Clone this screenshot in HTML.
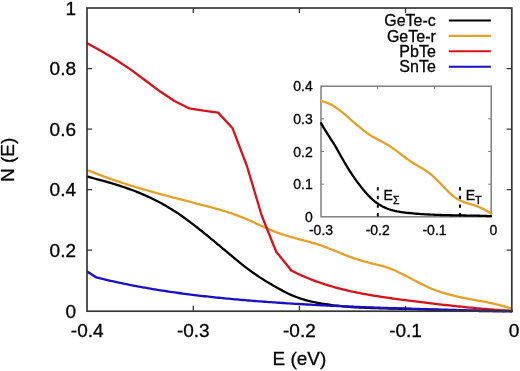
<!DOCTYPE html>
<html><head><meta charset="utf-8"><title>N(E) plot</title>
<style>html,body{margin:0;padding:0;background:#fff;}svg{display:block;}text{font-family:'Liberation Sans', Arial, Helvetica, sans-serif;fill:#000;stroke:#000;stroke-width:0.3px;}</style></head><body>
<svg width="520" height="371" viewBox="0 0 520 371">
<rect x="0" y="0" width="520" height="371" fill="#fff"/>
<path d="M87.2,250.2h5M511.6,250.2h-5M87.2,189.7h5M511.6,189.7h-5M87.2,129.2h5M511.6,129.2h-5M87.2,68.6h5M511.6,68.6h-5M193.3,310.8v-5M193.3,8.1v5M299.4,310.8v-5M299.4,8.1v5M405.5,310.8v-5M405.5,8.1v5" stroke="#363636" stroke-width="1.3" fill="none"/>
<path d="M87.40,176.68 89.40,177.20 91.40,177.71 93.40,178.24 95.40,178.76 97.40,179.29 99.41,179.83 101.41,180.37 103.41,180.92 105.41,181.48 107.41,182.04 109.41,182.62 111.41,183.20 113.41,183.80 115.41,184.41 117.41,185.03 119.42,185.66 121.42,186.31 123.42,186.98 125.42,187.65 127.42,188.35 129.42,189.06 131.42,189.79 133.42,190.53 135.42,191.30 137.42,192.09 139.42,192.89 141.43,193.72 143.43,194.57 145.43,195.44 147.43,196.33 149.43,197.25 151.43,198.20 153.43,199.17 155.43,200.16 157.43,201.19 159.43,202.24 161.43,203.32 163.44,204.43 165.44,205.57 167.44,206.74 169.44,207.94 171.44,209.17 173.44,210.44 175.44,211.73 177.44,213.06 179.44,214.42 181.44,215.80 183.45,217.21 185.45,218.65 187.45,220.11 189.45,221.59 191.45,223.10 193.45,224.62 195.45,226.17 197.45,227.73 199.45,229.31 201.45,230.90 203.45,232.51 205.46,234.13 207.46,235.76 209.46,237.40 211.46,239.05 213.46,240.70 215.46,242.37 217.46,244.04 219.46,245.71 221.46,247.38 223.46,249.06 225.47,250.74 227.47,252.41 229.47,254.08 231.47,255.75 233.47,257.41 235.47,259.07 237.47,260.71 239.47,262.34 241.47,263.95 243.47,265.54 245.47,267.10 247.48,268.63 249.48,270.13 251.48,271.60 253.48,273.02 255.48,274.41 257.48,275.77 259.48,277.09 261.48,278.39 263.48,279.65 265.48,280.90 267.48,282.11 269.49,283.31 271.49,284.49 273.49,285.65 275.49,286.79 277.49,287.92 279.49,289.04 281.49,290.13 283.49,291.20 285.49,292.23 287.49,293.23 289.50,294.18 291.50,295.09 293.50,295.94 295.50,296.73 297.50,297.48 299.50,298.19 301.50,298.84 303.50,299.46 305.50,300.04 307.50,300.58 309.50,301.08 311.51,301.55 313.51,302.00 315.51,302.41 317.51,302.81 319.51,303.18 321.51,303.53 323.51,303.86 325.51,304.18 327.51,304.48 329.51,304.76 331.52,305.03 333.52,305.29 335.52,305.53 337.52,305.76 339.52,305.97 341.52,306.17 343.52,306.36 345.52,306.54 347.52,306.71 349.52,306.86 351.52,307.01 353.53,307.15 355.53,307.27 357.53,307.39 359.53,307.50 361.53,307.61 363.53,307.70 365.53,307.79 367.53,307.87 369.53,307.95 371.53,308.02 373.53,308.09 375.54,308.15 377.54,308.21 379.54,308.27 381.54,308.32 383.54,308.37 385.54,308.42 387.54,308.46 389.54,308.51 391.54,308.56 393.54,308.60 395.55,308.65 397.55,308.69 399.55,308.74 401.55,308.79 403.55,308.85 405.55,308.90 407.55,308.96 409.55,309.02 411.55,309.08 413.55,309.14 415.55,309.20 417.56,309.27 419.56,309.33 421.56,309.39 423.56,309.46 425.56,309.53 427.56,309.59 429.56,309.66 431.56,309.73 433.56,309.79 435.56,309.86 437.57,309.93 439.57,309.99 441.57,310.06 443.57,310.12 445.57,310.19 447.57,310.25 449.57,310.31 451.57,310.37 453.57,310.43 455.57,310.49 457.57,310.54 459.58,310.59 461.58,310.65 463.58,310.69 465.58,310.74 467.58,310.79 469.58,310.83 471.58,310.87 473.58,310.90 475.58,310.93 477.58,310.96 479.58,310.99 481.59,311.01 483.59,311.03 485.59,311.05 487.59,311.06 489.59,311.07 491.59,311.07 493.59,311.07 495.59,311.07 497.59,311.06 499.59,311.04 501.60,311.02 503.60,311.00 505.60,310.97 507.60,310.93 509.60,310.89 511.60,310.85" fill="none" stroke="#000" stroke-width="2.3" stroke-linejoin="round" stroke-linecap="round"/>
<path d="M87.60,170.20 89.60,171.01 91.60,171.81 93.60,172.61 95.60,173.38 97.60,174.15 99.60,174.91 101.60,175.66 103.60,176.40 105.60,177.12 107.60,177.84 109.60,178.55 111.60,179.25 113.60,179.94 115.60,180.62 117.60,181.29 119.60,181.96 121.60,182.61 123.60,183.26 125.60,183.90 127.60,184.54 129.60,185.16 131.60,185.78 133.60,186.39 135.60,187.00 137.60,187.60 139.60,188.19 141.60,188.78 143.60,189.36 145.60,189.94 147.60,190.51 149.60,191.08 151.60,191.64 153.60,192.20 155.60,192.75 157.60,193.30 159.60,193.85 161.60,194.39 163.60,194.93 165.60,195.46 167.60,196.00 169.60,196.53 171.60,197.05 173.60,197.58 175.60,198.10 177.60,198.62 179.60,199.14 181.60,199.66 183.60,200.18 185.60,200.69 187.60,201.21 189.60,201.72 191.60,202.24 193.60,202.75 195.60,203.27 197.60,203.78 199.60,204.30 201.60,204.82 203.60,205.34 205.60,205.86 207.60,206.38 209.60,206.91 211.60,207.45 213.60,208.00 215.60,208.55 217.60,209.12 219.60,209.69 221.60,210.28 223.60,210.88 225.60,211.50 227.60,212.13 229.60,212.78 231.60,213.45 233.60,214.14 235.60,214.85 237.60,215.58 239.60,216.33 241.60,217.11 243.60,217.91 245.60,218.74 247.60,219.59 249.60,220.47 251.60,221.37 253.60,222.28 255.60,223.20 257.60,224.12 259.60,225.05 261.60,225.97 263.60,226.89 265.60,227.79 267.60,228.67 269.60,229.54 271.60,230.38 273.60,231.18 275.60,231.96 277.60,232.70 279.60,233.41 281.60,234.09 283.60,234.74 285.60,235.37 287.60,235.98 289.60,236.57 291.60,237.14 293.60,237.70 295.60,238.24 297.60,238.77 299.60,239.30 301.60,239.82 303.60,240.34 305.60,240.87 307.60,241.41 309.60,241.96 311.60,242.52 313.60,243.10 315.60,243.70 317.60,244.33 319.60,244.99 321.60,245.67 323.60,246.39 325.60,247.14 327.60,247.92 329.60,248.71 331.60,249.51 333.60,250.33 335.60,251.15 337.60,251.97 339.60,252.78 341.60,253.58 343.60,254.37 345.60,255.14 347.60,255.89 349.60,256.63 351.60,257.35 353.60,258.06 355.60,258.74 357.60,259.40 359.60,260.04 361.60,260.66 363.60,261.26 365.60,261.82 367.60,262.37 369.60,262.89 371.60,263.38 373.60,263.86 375.60,264.33 377.60,264.81 379.60,265.31 381.60,265.83 383.60,266.38 385.60,266.98 387.60,267.62 389.60,268.34 391.60,269.11 393.60,269.94 395.60,270.81 397.60,271.73 399.60,272.69 401.60,273.68 403.60,274.70 405.60,275.74 407.60,276.79 409.60,277.86 411.60,278.93 413.60,280.00 415.60,281.06 417.60,282.11 419.60,283.14 421.60,284.15 423.60,285.14 425.60,286.08 427.60,286.99 429.60,287.86 431.60,288.69 433.60,289.48 435.60,290.24 437.60,290.96 439.60,291.65 441.60,292.31 443.60,292.94 445.60,293.54 447.60,294.12 449.60,294.66 451.60,295.19 453.60,295.69 455.60,296.17 457.60,296.63 459.60,297.08 461.60,297.50 463.60,297.91 465.60,298.31 467.60,298.69 469.60,299.07 471.60,299.44 473.60,299.80 475.60,300.16 477.60,300.52 479.60,300.88 481.60,301.24 483.60,301.61 485.60,301.98 487.60,302.37 489.60,302.77 491.60,303.18 493.60,303.61 495.60,304.06 497.60,304.53 499.60,305.03 501.60,305.55 503.60,306.09 505.60,306.67 507.60,307.28 509.60,307.92 511.60,308.60" fill="none" stroke="#e6a12a" stroke-width="2.3" stroke-linejoin="round" stroke-linecap="round"/>
<path d="M87.2,43.2 101.7,51.2 116.3,60.0 130.8,69.6 145.4,80.5 159.9,91.3 174.4,101.0 189.0,108.3 203.5,110.7 218.1,112.6 232.6,128.3 247.1,166.5 261.7,215.5 276.2,251.7 290.8,269.7" fill="none" stroke="#d8121c" stroke-width="2.3" stroke-linejoin="round" stroke-linecap="round"/>
<path d="M290.80,270.28 292.81,271.29 294.81,272.28 296.82,273.24 298.83,274.18 300.84,275.09 302.84,275.98 304.85,276.85 306.86,277.69 308.87,278.51 310.87,279.31 312.88,280.08 314.89,280.84 316.89,281.57 318.90,282.28 320.91,282.98 322.92,283.65 324.92,284.31 326.93,284.95 328.94,285.56 330.95,286.17 332.95,286.75 334.96,287.32 336.97,287.87 338.97,288.40 340.98,288.92 342.99,289.43 345.00,289.92 347.00,290.40 349.01,290.86 351.02,291.31 353.03,291.75 355.03,292.17 357.04,292.59 359.05,292.99 361.05,293.38 363.06,293.76 365.07,294.13 367.08,294.49 369.08,294.84 371.09,295.19 373.10,295.52 375.11,295.85 377.11,296.17 379.12,296.48 381.13,296.79 383.13,297.09 385.14,297.38 387.15,297.67 389.16,297.96 391.16,298.24 393.17,298.52 395.18,298.79 397.19,299.06 399.19,299.33 401.20,299.60 403.21,299.87 405.21,300.13 407.22,300.39 409.23,300.65 411.24,300.91 413.24,301.17 415.25,301.42 417.26,301.68 419.27,301.93 421.27,302.18 423.28,302.42 425.29,302.67 427.29,302.91 429.30,303.15 431.31,303.39 433.32,303.63 435.32,303.86 437.33,304.09 439.34,304.33 441.35,304.55 443.35,304.78 445.36,305.00 447.37,305.23 449.37,305.45 451.38,305.66 453.39,305.88 455.40,306.09 457.40,306.30 459.41,306.51 461.42,306.72 463.43,306.92 465.43,307.12 467.44,307.32 469.45,307.52 471.45,307.71 473.46,307.90 475.47,308.09 477.48,308.28 479.48,308.46 481.49,308.64 483.50,308.82 485.51,309.00 487.51,309.17 489.52,309.34 491.53,309.51 493.53,309.68 495.54,309.84 497.55,310.00 499.56,310.16 501.56,310.31 503.57,310.46 505.58,310.61 507.59,310.76 509.59,310.90 511.60,311.04" fill="none" stroke="#d8121c" stroke-width="2.3" stroke-linejoin="round" stroke-linecap="round"/>
<path d="M87.6,271.7 L96.40,277.45 98.41,277.94 100.41,278.43 102.42,278.91 104.42,279.39 106.43,279.86 108.43,280.32 110.44,280.78 112.45,281.23 114.45,281.67 116.46,282.11 118.46,282.54 120.47,282.97 122.48,283.39 124.48,283.80 126.49,284.21 128.49,284.61 130.50,285.01 132.50,285.40 134.51,285.79 136.52,286.17 138.52,286.54 140.53,286.91 142.53,287.28 144.54,287.64 146.54,287.99 148.55,288.34 150.56,288.68 152.56,289.02 154.57,289.35 156.57,289.68 158.58,290.01 160.59,290.33 162.59,290.64 164.60,290.95 166.60,291.25 168.61,291.55 170.61,291.85 172.62,292.14 174.63,292.43 176.63,292.71 178.64,292.99 180.64,293.26 182.65,293.53 184.66,293.80 186.66,294.06 188.67,294.32 190.67,294.57 192.68,294.82 194.68,295.07 196.69,295.31 198.70,295.55 200.70,295.79 202.71,296.02 204.71,296.25 206.72,296.47 208.72,296.69 210.73,296.91 212.74,297.13 214.74,297.34 216.75,297.55 218.75,297.75 220.76,297.95 222.77,298.15 224.77,298.35 226.78,298.54 228.78,298.73 230.79,298.92 232.79,299.11 234.80,299.29 236.81,299.47 238.81,299.65 240.82,299.82 242.82,299.99 244.83,300.16 246.83,300.33 248.84,300.50 250.85,300.66 252.85,300.82 254.86,300.98 256.86,301.14 258.87,301.30 260.88,301.45 262.88,301.60 264.89,301.75 266.89,301.90 268.90,302.05 270.90,302.19 272.91,302.33 274.92,302.47 276.92,302.61 278.93,302.75 280.93,302.88 282.94,303.02 284.94,303.15 286.95,303.28 288.96,303.41 290.96,303.53 292.97,303.66 294.97,303.78 296.98,303.90 298.99,304.02 300.99,304.14 303.00,304.26 305.00,304.37 307.01,304.49 309.01,304.60 311.02,304.71 313.03,304.82 315.03,304.93 317.04,305.03 319.04,305.14 321.05,305.24 323.06,305.34 325.06,305.44 327.07,305.54 329.07,305.64 331.08,305.74 333.08,305.83 335.09,305.93 337.10,306.02 339.10,306.11 341.11,306.20 343.11,306.29 345.12,306.38 347.12,306.47 349.13,306.55 351.14,306.64 353.14,306.72 355.15,306.80 357.15,306.89 359.16,306.97 361.17,307.05 363.17,307.12 365.18,307.20 367.18,307.28 369.19,307.35 371.19,307.43 373.20,307.50 375.21,307.58 377.21,307.65 379.22,307.72 381.22,307.79 383.23,307.86 385.23,307.93 387.24,308.00 389.25,308.06 391.25,308.13 393.26,308.19 395.26,308.26 397.27,308.32 399.28,308.39 401.28,308.45 403.29,308.51 405.29,308.58 407.30,308.64 409.30,308.70 411.31,308.76 413.32,308.82 415.32,308.88 417.33,308.94 419.33,308.99 421.34,309.05 423.34,309.11 425.35,309.17 427.36,309.22 429.36,309.28 431.37,309.33 433.37,309.39 435.38,309.45 437.39,309.50 439.39,309.55 441.40,309.61 443.40,309.66 445.41,309.72 447.41,309.77 449.42,309.82 451.43,309.88 453.43,309.93 455.44,309.98 457.44,310.04 459.45,310.09 461.46,310.14 463.46,310.20 465.47,310.25 467.47,310.30 469.48,310.35 471.48,310.41 473.49,310.46 475.50,310.51 477.50,310.57 479.51,310.62 481.51,310.67 483.52,310.73 485.52,310.78 487.53,310.83 489.54,310.89 491.54,310.94 493.55,310.99 495.55,311.05 497.56,311.10 499.57,311.16 501.57,311.21 503.58,311.27 505.58,311.33 507.59,311.38 509.59,311.44 511.60,311.50" fill="none" stroke="#1a0fc4" stroke-width="2.3" stroke-linejoin="round" stroke-linecap="round"/>
<rect x="87.0" y="8.0" width="424.8" height="303.2" fill="none" stroke="#363636" stroke-width="1.7"/>
<text x="76" y="317.5" font-size="19" text-anchor="end">0</text>
<text x="76" y="256.9" font-size="19" text-anchor="end">0.2</text>
<text x="76" y="196.4" font-size="19" text-anchor="end">0.4</text>
<text x="76" y="135.8" font-size="19" text-anchor="end">0.6</text>
<text x="76" y="75.3" font-size="19" text-anchor="end">0.8</text>
<text x="76" y="14.8" font-size="19" text-anchor="end">1</text>
<text x="87.2" y="336.8" font-size="19" text-anchor="middle">-0.4</text>
<text x="193.3" y="336.8" font-size="19" text-anchor="middle">-0.3</text>
<text x="299.4" y="336.8" font-size="19" text-anchor="middle">-0.2</text>
<text x="405.5" y="336.8" font-size="19" text-anchor="middle">-0.1</text>
<text x="514.0" y="336.8" font-size="19" text-anchor="middle">0</text>
<text x="299.4" y="365.3" font-size="19" text-anchor="middle">E (eV)</text>
<text transform="translate(14.1,159.8) rotate(-90)" x="0" y="0" font-size="19" text-anchor="middle">N (E)</text>
<text x="435.8" y="26.2" font-size="16" text-anchor="end">GeTe-c</text>
<line x1="448.8" y1="20.5" x2="490.9" y2="20.5" stroke="#000" stroke-width="2.1"/>
<text x="435.8" y="41.6" font-size="16" text-anchor="end">GeTe-r</text>
<line x1="448.8" y1="35.9" x2="490.9" y2="35.9" stroke="#e6a12a" stroke-width="2.1"/>
<text x="435.8" y="57.0" font-size="16" text-anchor="end">PbTe</text>
<line x1="448.8" y1="51.3" x2="490.9" y2="51.3" stroke="#d8121c" stroke-width="2.1"/>
<text x="435.8" y="72.4" font-size="16" text-anchor="end">SnTe</text>
<line x1="448.8" y1="66.7" x2="490.9" y2="66.7" stroke="#1a0fc4" stroke-width="2.1"/>
<rect x="321.0" y="86.2" width="170.2" height="130.6" fill="#fff" stroke="none"/>
<path d="M321.0,184.2h3M491.2,184.2h-3M321.0,151.5h3M491.2,151.5h-3M321.0,118.8h3M491.2,118.8h-3M377.7,216.8v-3M377.7,86.2v3M434.5,216.8v-3M434.5,86.2v3" stroke="#7a7a7a" stroke-width="1" fill="none"/>
<rect x="321.0" y="86.2" width="170.2" height="130.6" fill="none" stroke="#7a7a7a" stroke-width="1.45"/>
<line x1="377.8" y1="187.2" x2="377.8" y2="216.8" stroke="#000" stroke-width="1.9" stroke-dasharray="3.4 5.2"/>
<line x1="460.0" y1="187.2" x2="460.0" y2="216.8" stroke="#000" stroke-width="1.9" stroke-dasharray="3.4 5.2"/>
<path d="M321.00,123.20 323.00,126.59 325.00,129.85 327.00,133.01 329.00,136.13 331.00,139.26 333.00,142.44 335.00,145.72 337.00,149.14 339.00,152.65 341.00,156.21 343.00,159.75 345.00,163.22 347.00,166.58 349.00,169.82 351.00,172.93 353.00,175.92 355.00,178.81 357.00,181.59 359.00,184.27 361.00,186.86 363.00,189.35 365.00,191.74 367.00,194.00 369.00,196.12 371.00,198.10 373.00,199.91 375.00,201.56 377.00,203.05 379.00,204.39 381.00,205.60 383.00,206.67 385.00,207.63 387.00,208.47 389.00,209.22 391.00,209.87 393.00,210.43 395.00,210.92 397.00,211.35 399.00,211.71 401.00,212.03 403.00,212.31 405.00,212.56 407.00,212.79 409.00,213.01 411.00,213.21 413.00,213.40 415.00,213.58 417.00,213.74 419.00,213.90 421.00,214.04 423.00,214.17 425.00,214.30 427.00,214.41 429.00,214.52 431.00,214.62 433.00,214.71 435.00,214.79 437.00,214.87 439.00,214.94 441.00,215.00 443.00,215.06 445.00,215.12 447.00,215.17 449.00,215.21 451.00,215.25 453.00,215.29 455.00,215.33 457.00,215.37 459.00,215.40 461.00,215.43 463.00,215.47 465.00,215.50 467.00,215.53 469.00,215.57 471.00,215.60 473.00,215.64 475.00,215.68 477.00,215.72 479.00,215.77 481.00,215.82 483.00,215.87 485.00,215.93 487.00,215.99 489.00,216.06 491.00,216.14" fill="none" stroke="#000" stroke-width="2.3" stroke-linejoin="round" stroke-linecap="round"/>
<path d="M321.00,101.14 323.00,101.50 325.01,102.04 327.01,102.74 329.02,103.60 331.02,104.60 333.03,105.73 335.03,106.98 337.04,108.34 339.04,109.79 341.05,111.32 343.05,112.92 345.06,114.57 347.06,116.27 349.07,118.01 351.07,119.76 353.08,121.52 355.08,123.28 357.08,125.02 359.09,126.73 361.09,128.39 363.10,130.01 365.10,131.56 367.11,133.03 369.11,134.41 371.12,135.70 373.12,136.89 375.13,138.03 377.13,139.12 379.14,140.18 381.14,141.24 383.15,142.31 385.15,143.41 387.16,144.56 389.16,145.79 391.16,147.10 393.17,148.49 395.17,149.94 397.18,151.43 399.18,152.95 401.19,154.49 403.19,156.02 405.20,157.53 407.20,159.01 409.21,160.43 411.21,161.79 413.22,163.07 415.22,164.29 417.23,165.48 419.23,166.66 421.24,167.84 423.24,169.06 425.24,170.33 427.25,171.68 429.25,173.12 431.26,174.69 433.26,176.39 435.27,178.24 437.27,180.21 439.28,182.26 441.28,184.36 443.29,186.47 445.29,188.57 447.30,190.61 449.30,192.57 451.31,194.42 453.31,196.12 455.32,197.63 457.32,198.94 459.32,200.06 461.33,201.01 463.33,201.83 465.34,202.55 467.34,203.20 469.35,203.80 471.35,204.39 473.36,205.00 475.36,205.65 477.37,206.37 479.37,207.19 481.38,208.10 483.38,209.08 485.39,210.15 487.39,211.28 489.40,212.48 491.40,213.74" fill="none" stroke="#e6a12a" stroke-width="2.3" stroke-linejoin="round" stroke-linecap="round"/>
<text x="312.8" y="221.8" font-size="14" text-anchor="end">0</text>
<text x="312.8" y="189.2" font-size="14" text-anchor="end">0.1</text>
<text x="312.8" y="156.5" font-size="14" text-anchor="end">0.2</text>
<text x="312.8" y="123.8" font-size="14" text-anchor="end">0.3</text>
<text x="312.8" y="91.2" font-size="14" text-anchor="end">0.4</text>
<text x="321.0" y="235.4" font-size="14" text-anchor="middle">-0.3</text>
<text x="377.7" y="235.4" font-size="14" text-anchor="middle">-0.2</text>
<text x="434.5" y="235.4" font-size="14" text-anchor="middle">-0.1</text>
<text x="493.3" y="235.4" font-size="14" text-anchor="middle">0</text>
<text x="383.6" y="200.0" font-size="14">E<tspan font-size="10.5" dy="3.7">Σ</tspan></text>
<text x="465.7" y="200.0" font-size="14">E<tspan font-size="11" dy="4.2">T</tspan></text>
</svg></body></html>
